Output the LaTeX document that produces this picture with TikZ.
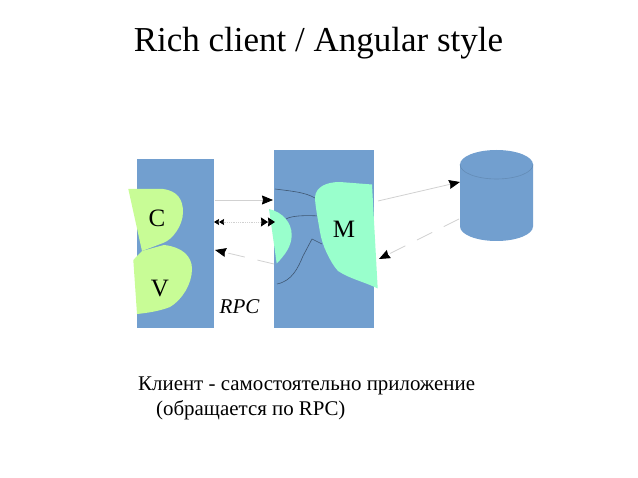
\documentclass[tikz,border=0pt]{standalone}
\usepackage{fontspec}
\setmainfont{Liberation Serif}
\usepackage{xcolor}
\usetikzlibrary{positioning,arrows.meta}
\definecolor{panelblue}{HTML}{729FCF}
\definecolor{limegreen}{HTML}{C8FC96}
\definecolor{mintgreen}{HTML}{99FFCC}
\tikzset{
  panel/.style = {fill=panelblue, draw=none, minimum width=#1, inner sep=0pt, outer sep=0pt},
  letter/.style = {font=\fontsize{25}{25}\selectfont, inner sep=0pt},
  seam/.style = {draw=panelblue!55!black, line width=0.6pt},
  call/.style = {draw=black!18, line width=0.8pt, -{Stealth[black,inset=1pt,length=11pt,width=9pt]}},
  back/.style = {call, dash pattern=on 17pt off 13pt},
  both/.style = {draw=black!18, line width=0.8pt, densely dotted,
    {Stealth[black,inset=0.5pt,length=5pt,width=6pt]Stealth[black,inset=0.5pt,length=5pt,width=6pt]}-{Stealth[black,inset=0.5pt,length=7pt,width=9pt]Stealth[black,inset=0.5pt,length=7pt,width=9pt]}}
}
\begin{document}
\begin{tikzpicture}[x=1pt,y=-1pt]
  \useasboundingbox (0,0) rectangle (638,478);
  \node[font=\fontsize{35}{35}\selectfont, inner sep=0pt] (title) at (318.5,43) {Rich client / Angular style};
  % panels
  \node[panel=77pt, minimum height=168.7pt] (client) at (175.2,243.4) {};
  \node[panel=100pt, minimum height=177.7pt] (server) at (324,238.9) {};
  % C and V
  \fill[limegreen] (128.3,189) -- (163,189) .. controls (178,191) and (183,200) .. (183,212)
    .. controls (183,226) and (172,240) .. (163,243) -- (142,251) -- cycle;
  \fill[limegreen] (133.3,260) -- (142,251) -- (164,245) .. controls (182,247) and (192,256) .. (192,269)
    .. controls (192,284) and (182,300) .. (170,307) .. controls (160,311) and (147,313) .. (137,314) -- cycle;
  \node[letter] (c) at (157,218) {C};
  \node[letter] (v) at (160,289) {V};
  % seams inside the server
  \draw[seam] (275,189) .. controls (290,191) and (305,192) .. (315,198);
  \draw[seam] (286,219) .. controls (291,216) and (303,215) .. (319,216);
  \draw[seam] (277,284) .. controls (292,281) and (298,268) .. (303,256) -- (312,239) -- (322,244);
  % M
  \fill[mintgreen] (269,209) .. controls (282,212) and (291.7,222) .. (291.7,235)
    .. controls (291.7,246) and (285,255) .. (276.7,263.5) -- cycle;
  \fill[mintgreen] (372,184.5) -- (377.7,288.5) .. controls (365,282) and (350,279) .. (338,271)
    .. controls (330,262) and (322,245) .. (320,232) .. controls (318,220) and (315,205) .. (315,197)
    .. controls (316,187) and (326,182) .. (340,182) -- cycle;
  \node[letter] (m) at (344,229) {M};
  % database
  \fill[panelblue] (460,164.5) arc[start angle=180, end angle=360, x radius=36.5, y radius=14.5]
    -- (533,226.5) arc[start angle=0, end angle=180, x radius=36.5, y radius=14.5] -- cycle;
  \draw[seam, draw=panelblue!88!black] (460,164.5) arc[start angle=180, end angle=0, x radius=36.5, y radius=14.5];
  % connectors
  \coordinate (clienttop) at (214.5,200);
  \coordinate (servertop) at (273,200);
  \coordinate (clientmid) at (214,222);
  \coordinate (servermid) at (275,222);
  \coordinate (serverlow) at (274,264);
  \coordinate (clientlow) at (215,250);
  \coordinate (modelout) at (378,201);
  \coordinate (dbin) at (460,182);
  \coordinate (dbout) at (459,219);
  \coordinate (modelin) at (379,259);
  \draw[call] (clienttop) -- (servertop);
  \draw[both] (clientmid) -- (servermid);
  \draw[back] (serverlow) -- (clientlow);
  \draw[call] (modelout) -- (dbin);
  \draw[back] (dbout) -- (modelin);
  \node[font=\fontsize{21}{21}\selectfont\itshape, inner sep=0pt] (rpc) at (239.5,307) {RPC};
  \node[font=\fontsize{20.9}{24}\selectfont, inner sep=0pt, anchor=base west] (line1) at (138,391) {Клиент - самостоятельно приложение};
  \node[font=\fontsize{20.9}{24}\selectfont, inner sep=0pt, anchor=base west] (line2) at (156,416) {(обращается по RPC)};
\end{tikzpicture}
\end{document}
